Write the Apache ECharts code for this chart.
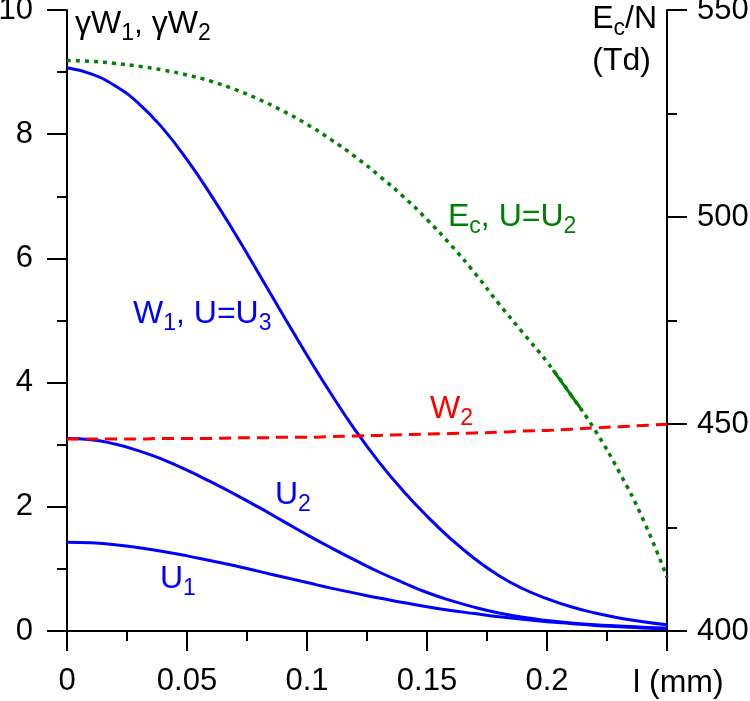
<!DOCTYPE html>
<html style="height:100%">
<meta charset="utf-8" />
<title>W1, W2, Ec vs l</title>
<script src="https://cdn.jsdelivr.net/npm/echarts@6/dist/echarts.min.js"></script>
<body style="margin:0;height:100%;width:100%;background:#fff">
<div id="chartmain" style="width:750px;height:701px;"></div>
<script type="text/javascript">

    // l (mm), every 0.01
    var xs = [0, 0.01, 0.02, 0.03, 0.04, 0.05, 0.06, 0.07, 0.08, 0.09, 0.10, 0.11, 0.12,
              0.13, 0.14, 0.15, 0.16, 0.17, 0.18, 0.19, 0.20, 0.21, 0.22, 0.23, 0.24, 0.25];

    // left axis: gamma*W1 (U=U3), U2, U1, gamma*W2
    var w1U3 = [9.07, 8.97, 8.78, 8.49, 8.09, 7.59, 7.02, 6.40, 5.75, 5.09, 4.44, 3.82, 3.24,
                2.72, 2.26, 1.85, 1.48, 1.16, 0.89, 0.68, 0.52, 0.39, 0.29, 0.21, 0.15, 0.10];
    var w1U2 = [3.10, 3.08, 3.01, 2.90, 2.76, 2.59, 2.40, 2.20, 1.99, 1.77, 1.55, 1.34, 1.14,
                0.95, 0.78, 0.62, 0.49, 0.38, 0.29, 0.22, 0.17, 0.13, 0.10, 0.08, 0.06, 0.05];
    var w1U1 = [1.43, 1.42, 1.39, 1.34, 1.28, 1.21, 1.13, 1.05, 0.96, 0.87, 0.78, 0.69, 0.61,
                0.53, 0.46, 0.39, 0.33, 0.28, 0.23, 0.19, 0.15, 0.12, 0.09, 0.07, 0.05, 0.04];
    var w2 = [3.09, 3.09, 3.09, 3.09, 3.10, 3.10, 3.10, 3.11, 3.11, 3.12, 3.12, 3.13, 3.14,
              3.15, 3.16, 3.17, 3.18, 3.19, 3.20, 3.22, 3.23, 3.25, 3.27, 3.29, 3.31, 3.33];

    // right axis: Ec/N (Td), U=U2
    var ec = [537.8, 537.6, 537.1, 536.4, 535.5, 534.3, 532.8, 530.8, 528.4, 525.6, 522.4, 518.7, 514.6,
              510.0, 505.0, 499.4, 493.2, 486.4, 479.0, 472.0, 465.0, 457.0, 448.5, 438.5, 427.0, 413.0];
    // short solid piece on the Ec curve
    var ecSolidX = [0.2025, 0.208, 0.214];
    var ecSolidY = [463.0, 458.6, 453.8];

    var xTickLabels = {'0': '0', '0.05': '0.05', '0.1': '0.1', '0.15': '0.15', '0.2': '0.2'};

    var FONT = "'Liberation Sans', Arial, sans-serif";
    var BLUE = '#0000ff', RED = '#ff0000', GREEN = '#008000';

    function pairs(xv, yv) {
        return xv.map(function (x, i) { return [x, yv[i]]; });
    }

    function richText(color) {
        return {
            m: {fontSize: 32, fontFamily: FONT, fill: color, lineHeight: 38},
            s: {fontSize: 23, fontFamily: FONT, fill: color, lineHeight: 38, padding: [20, 0, 0, 0]}
        };
    }

    function note(x, y, text, color, align) {
        return {
            type: 'text', x: x, y: y, silent: true,
            style: {text: text, rich: richText(color), align: align || 'left', verticalAlign: 'top'}
        };
    }

    var axisCommon = {
        axisLine: {show: true, onZero: false, lineStyle: {color: '#000', width: 2}},
        axisTick: {show: true, inside: false, length: 20, lineStyle: {color: '#000', width: 2}},
        minorTick: {show: true, splitNumber: 2, length: 10, lineStyle: {color: '#000', width: 2}},
        splitLine: {show: false},
        minorSplitLine: {show: false}
    };

    function lineSeries(name, data, color, type, yIdx, width) {
        return {
            name: name, type: 'line', data: data, yAxisIndex: yIdx || 0,
            showSymbol: false, symbol: 'none', smooth: 0.5,
            lineStyle: {color: color, width: width || 3, type: type || 'solid', cap: 'butt'},
            z: 3
        };
    }

    var myChart = echarts.init(document.getElementById('chartmain'), null, {renderer: 'canvas'});

    var option = {
        backgroundColor: '#fff',
        animation: false,
        grid: {left: 67, right: 83, top: 10, bottom: 70, containLabel: false, outerBoundsMode: 'none'},
        xAxis: Object.assign({
            type: 'value', min: 0, max: 0.25, interval: 0.05,
            axisLabel: {
                color: '#000', fontSize: 31, fontFamily: FONT, margin: 35,
                showMaxLabel: true,
                formatter: function (v) {
                    var k = String(+v.toFixed(3));
                    return xTickLabels.hasOwnProperty(k) ? xTickLabels[k] : '';
                }
            }
        }, axisCommon),
        yAxis: [
            Object.assign({
                type: 'value', min: 0, max: 10, interval: 2, position: 'left',
                axisLabel: {color: '#000', fontSize: 31, fontFamily: FONT, margin: 34}
            }, axisCommon),
            Object.assign({
                type: 'value', min: 400, max: 550, interval: 50, position: 'right',
                axisLabel: {color: '#000', fontSize: 31, fontFamily: FONT, margin: 30}
            }, axisCommon)
        ],
        series: [
            lineSeries('W1 U3', pairs(xs, w1U3), BLUE),
            lineSeries('U2', pairs(xs, w1U2), BLUE),
            lineSeries('U1', pairs(xs, w1U1), BLUE),
            lineSeries('W2', pairs(xs, w2), RED, [12, 7]),
            lineSeries('Ec', pairs(xs, ec), GREEN, [4, 5], 1, 3.5),
            lineSeries('Ec solid', pairs(ecSolidX, ecSolidY), GREEN, 'solid', 1)
        ],
        graphic: [
            note(75, 5, '{m|γW}{s|1}{m|, γW}{s|2}', '#000'),
            note(657, 0, '{m|E}{s|c}{m|/N}', '#000', 'right'),
            note(651, 42, '{m|(Td)}', '#000', 'right'),
            note(633, 664, '{m|l (mm)}', '#000'),
            note(448, 198, '{m|E}{s|c}{m|, U=U}{s|2}', GREEN),
            note(133, 295, '{m|W}{s|1}{m|, U=U}{s|3}', BLUE),
            note(430, 390, '{m|W}{s|2}', RED),
            note(275, 476, '{m|U}{s|2}', BLUE),
            note(160, 560, '{m|U}{s|1}', BLUE)
        ]
    };
    myChart.setOption(option);

</script>
</body>
</html>
